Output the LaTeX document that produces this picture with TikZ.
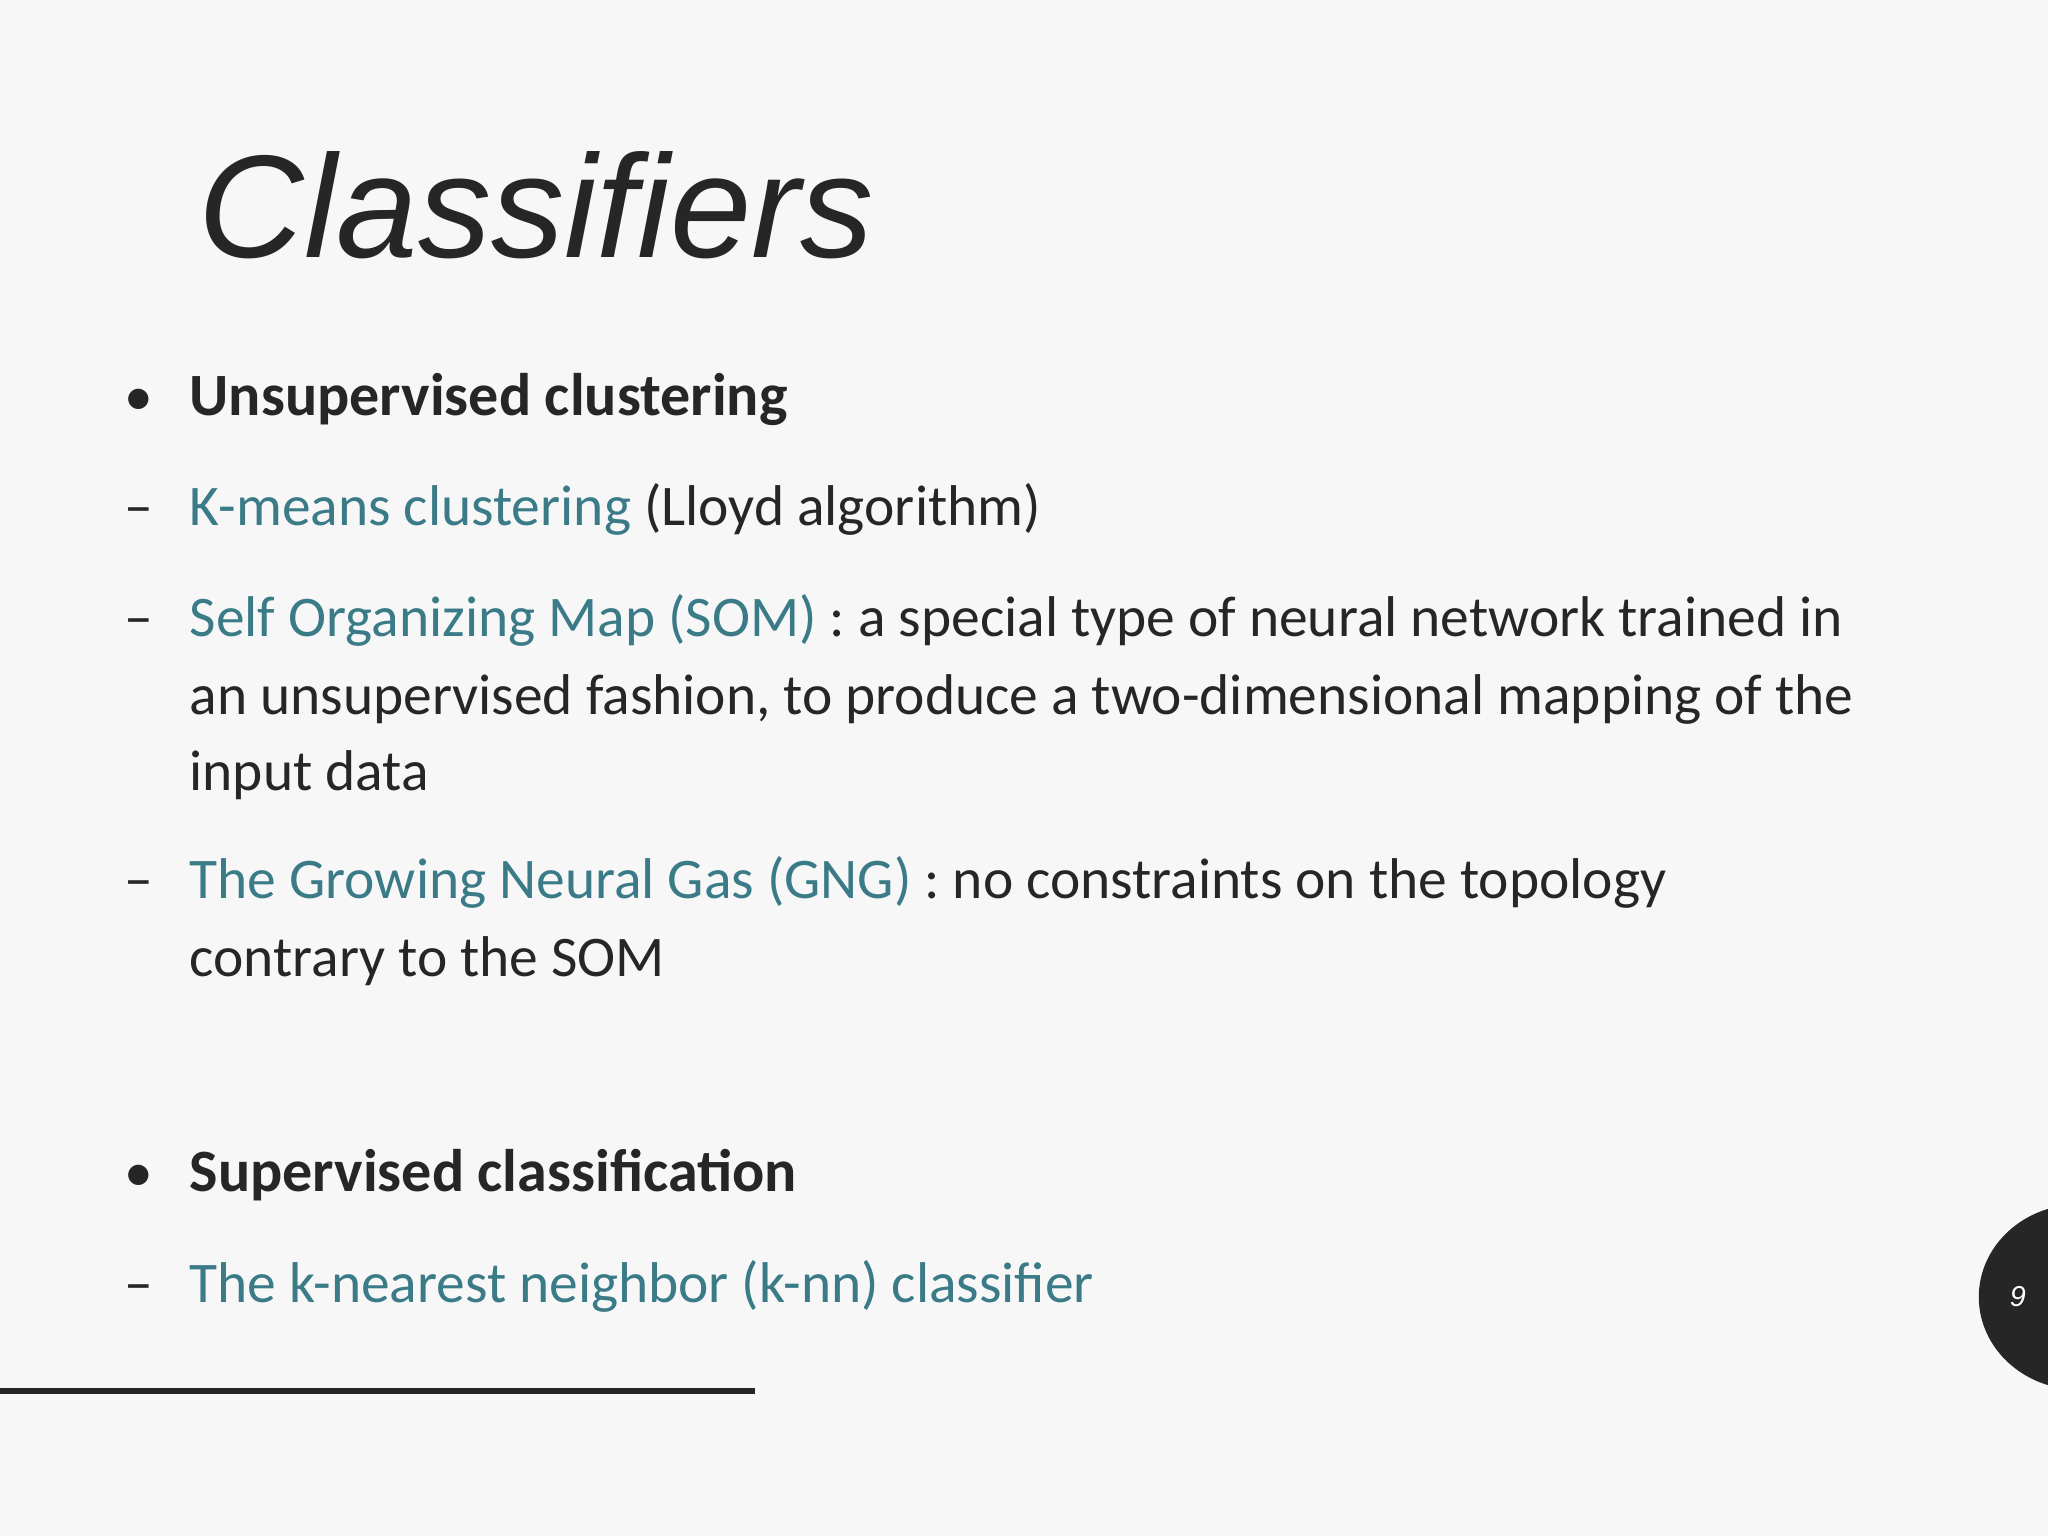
\documentclass[tikz,border=0pt]{standalone}
\usepackage{fontspec}
\setmainfont{Carlito}
\newfontfamily\titlefont{Liberation Sans}
\definecolor{bg}{HTML}{F7F7F8}
\definecolor{teal}{HTML}{3A7B87}
\definecolor{ink}{HTML}{262626}
\begin{document}
\begin{tikzpicture}[x=1pt,y=-1pt,
  txt/.style={anchor=base west,inner sep=0pt,text=ink,font=\fontsize{44}{52}\selectfont},
  head/.style={txt,font=\fontsize{46}{54}\selectfont\bfseries},
  bulletmark/.style={anchor=base west,inner sep=0pt,text=ink,font=\fontsize{44}{52}\selectfont}]
\fill[bg] (0,0) rectangle (1568,1176);
\useasboundingbox (0,0) rectangle (1568,1176);
\node[anchor=base west,inner sep=0pt,text=ink,font=\titlefont\fontsize{112}{120}\selectfont\itshape] (title) at (152,197) {Classifiers};
\node[bulletmark] (b1) at (95,318) {•};
\node[head] (h1) at (145,318) {Unsupervised clustering};
\node[bulletmark] (d1) at (95,402) {–};
\node[txt] (l1) at (145,402) {\textcolor{teal}{K-means clustering} (Lloyd algorithm)};
\node[bulletmark] (d2) at (95,487) {–};
\node[txt] (l2) at (145,487) {\textcolor{teal}{Self Organizing Map (SOM)} : a special type of neural network trained in};
\node[txt] (l2b) at (145,547) {an unsupervised fashion, to produce a two-dimensional mapping of the};
\node[txt] (l2c) at (145,605) {input data};
\node[bulletmark] (d3) at (95,688) {–};
\node[txt] (l3) at (145,688) {\textcolor{teal}{The Growing Neural Gas (GNG)} : no constraints on the topology};
\node[txt] (l3b) at (145,748) {contrary to the SOM};
\node[bulletmark] (b2) at (95,912) {•};
\node[head] (h2) at (145,912) {Supervised classification};
\node[bulletmark] (d4) at (95,997) {–};
\node[txt,text=teal] (l4) at (145,997) {The k-nearest neighbor (k-nn) classifier};
\draw[ink,line width=4pt] (0,1065) -- (578,1065);
\fill[ink] (1592,993) ellipse [x radius=77, y radius=71];
\node[text=white,font=\titlefont\fontsize{22}{24}\selectfont\itshape] (pg) at (1545,993) {9};
\end{tikzpicture}
\end{document}
